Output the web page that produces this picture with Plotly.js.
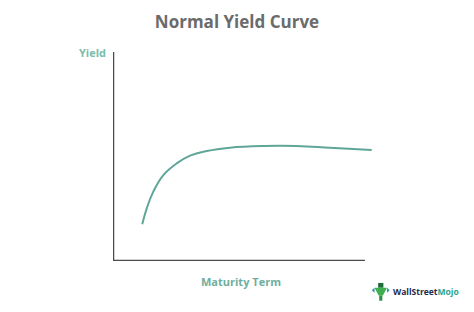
<!DOCTYPE html>
<html>
<head>
<meta charset="utf-8">
<script src="https://cdn.plot.ly/plotly-3.0.1.min.js"></script>
<style>html,body{margin:0;padding:0;background:#fff;}#chart{width:474px;height:312px;}</style>
</head>
<body>
<div id="chart"></div>
<script>
// Maturity (arbitrary units) and yield (arbitrary units)
const maturity = [1.16, 1.34, 1.60, 2.00, 2.53, 3.06, 3.72, 4.64, 5.96, 7.29, 8.61, 10.27];
const yieldVals = [1.76, 2.52, 3.32, 4.11, 4.67, 5.04, 5.26, 5.42, 5.50, 5.50, 5.42, 5.31];
const titleText = "Normal Yield Curve";
const xLabel = "Maturity Term";
const yLabel = "Yield";

const trace = {
  x: maturity, y: yieldVals, type: 'scatter', mode: 'lines',
  line: {color: '#5fa698', width: 2, shape: 'spline', smoothing: 1.2},
  hoverinfo: 'skip', cliponaxis: false
};

const layout = {
  width: 474, height: 312,
  margin: {l: 113, r: 99, t: 52, b: 51},
  paper_bgcolor: '#ffffff', plot_bgcolor: '#ffffff',
  showlegend: false,
  title: {text: titleText, x: 0.5, xanchor: 'center', y: 0.93, yanchor: 'middle',
    font: {family: 'Open Sans', size: 17, color: '#6b6b6b', weight: 'bold'}},
  xaxis: {range: [0, 10.4], showgrid: false, zeroline: false, showline: false, showticklabels: false, ticks: ''},
  yaxis: {range: [0, 10], showgrid: false, zeroline: false, showline: false, showticklabels: false, ticks: ''},
  shapes: [
    {type: 'line', xref: 'x', yref: 'y', x0: 0, y0: 0, x1: 10, y1: 0, line: {color: '#4a4a4a', width: 2.5}},
    {type: 'line', xref: 'x', yref: 'y', x0: 0, y0: 0, x1: 0, y1: 10, line: {color: '#4a4a4a', width: 2.5}},
    // logo icon
    {type: 'rect', xref: 'paper', yref: 'paper', x0: 1.012, y0: -0.105, x1: 1.032, y1: -0.128,
      fillcolor: '#1f6b3a', line: {width: 0}},
    {type: 'path', xref: 'paper', yref: 'paper',
      path: 'M 0.998 -0.128 L 1.046 -0.128 L 1.030 -0.165 L 1.014 -0.165 Z',
      fillcolor: '#3fae4f', line: {width: 0}},
    {type: 'rect', xref: 'paper', yref: 'paper', x0: 1.016, y0: -0.165, x1: 1.028, y1: -0.19,
      fillcolor: '#2e8f45', line: {width: 0}},
    {type: 'path', xref: 'paper', yref: 'paper',
      path: 'M 0.988 -0.14 L 0.998 -0.128 L 0.998 -0.152 Z',
      fillcolor: '#2a8fa0', line: {width: 0}},
    {type: 'path', xref: 'paper', yref: 'paper',
      path: 'M 1.056 -0.14 L 1.046 -0.128 L 1.046 -0.152 Z',
      fillcolor: '#2a8fa0', line: {width: 0}}
  ],
  annotations: [
    {text: yLabel, xref: 'paper', yref: 'paper', x: -0.079, y: 1.0, xanchor: 'center', yanchor: 'middle',
      showarrow: false, font: {family: 'Open Sans', size: 11, color: '#7bbcab', weight: 'bold'}},
    {text: xLabel, xref: 'paper', yref: 'paper', x: 0.487, y: -0.1, xanchor: 'center', yanchor: 'middle',
      showarrow: false, font: {family: 'Open Sans', size: 11, color: '#6fae9c', weight: 'bold'}},
    {text: '<span style="color:#1d2b4f">WallStreet</span><span style="color:#2aa58f">Mojo</span>',
      xref: 'paper', yref: 'paper', x: 1.06, y: -0.148, xanchor: 'left', yanchor: 'middle',
      showarrow: false, font: {family: 'Open Sans', size: 8.5, color: '#1d2b4f', weight: 'bold'}}
  ]
};

Plotly.newPlot('chart', [trace], layout, {displayModeBar: false, staticPlot: true});
</script>
</body>
</html>
